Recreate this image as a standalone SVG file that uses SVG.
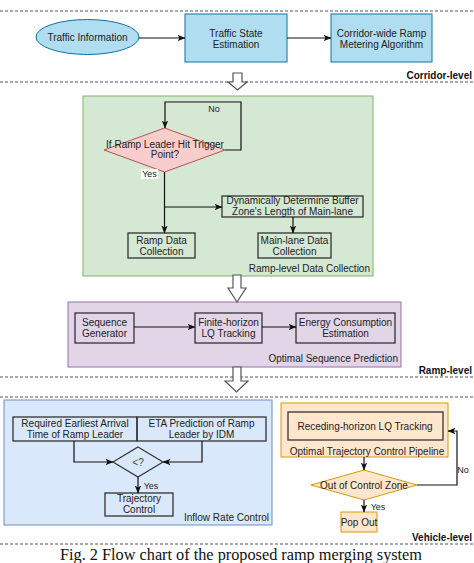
<svg xmlns="http://www.w3.org/2000/svg" width="474" height="563" viewBox="0 0 474 563">
<defs>
<marker id="ah" markerUnits="userSpaceOnUse" markerWidth="8" markerHeight="8" viewBox="0 0 8 8" refX="7.5" refY="4" orient="auto">
<path d="M0,0.8 L8,4 L0,7.2 L2,4 Z" fill="#111"/>
</marker>
<style>
text{font-family:"Liberation Sans",Arial,sans-serif;font-size:10px;fill:#222;text-anchor:middle}
.r{text-anchor:end}
.b{font-weight:bold;fill:#111}
.dash{stroke:#555;stroke-width:1.2;stroke-dasharray:3,2;fill:none}
.c{stroke:#111;stroke-width:1.2;fill:none;marker-end:url(#ah)}
.l{stroke:#111;stroke-width:1.2;fill:none}
.bl{fill:#b1ddf0;stroke:#10739e;stroke-width:1}
.gbox{fill:#d5e8d4;stroke:#82b366;stroke-width:1}
.pbox{fill:#e1d5e7;stroke:#9673a6;stroke-width:1}
.ubox{fill:#dae8fc;stroke:#6c8ebf;stroke-width:1}
.obox{fill:#ffe6cc;stroke:#d79b00;stroke-width:1}
.nb{fill:none;stroke:#333;stroke-width:1.3}
.hollow{fill:#fff;stroke:#555;stroke-width:1.2}
.cap{font-family:"Liberation Serif","Times New Roman",serif;font-size:16.3px;fill:#111;text-anchor:start}
</style>
</defs>

<!-- dashed separators -->
<g id="separators">
<line class="dash" x1="0" y1="11" x2="474" y2="11"/>
<line class="dash" x1="0" y1="82" x2="474" y2="82"/>
<line class="dash" x1="0" y1="377" x2="474" y2="377"/>
<line class="dash" x1="0" y1="397" x2="474" y2="397"/>
<line class="dash" x1="0" y1="544" x2="474" y2="544"/>
</g>

<!-- level labels -->
<text class="r b" x="472" y="79">Corridor-level</text>
<text class="r b" x="472" y="374">Ramp-level</text>
<text class="r b" x="472" y="541">Vehicle-level</text>

<!-- containers -->
<g id="ramp-data-collection">
<rect class="gbox" x="83" y="96" width="290" height="180"/>
<text class="r" x="370" y="272">Ramp-level Data Collection</text>
</g>
<g id="optimal-sequence-prediction">
<rect class="pbox" x="68" y="302" width="333" height="65"/>
<text class="r" x="398" y="362">Optimal Sequence Prediction</text>
</g>
<g id="inflow-rate-control">
<rect class="ubox" x="4" y="400" width="268" height="125"/>
<text class="r" x="269" y="521">Inflow Rate Control</text>
</g>
<g id="optimal-trajectory-pipeline">
<rect class="obox" x="281" y="403" width="167" height="54"/>
<text x="367" y="455">Optimal Trajectory Control Pipeline</text>
</g>

<!-- hollow arrows between levels -->
<g id="level-arrows">
<path class="hollow" d="M233,73 H242 V82 H247 L237.5,90 L228,82 H233 Z"/>
<path class="hollow" d="M233,275 H241 V288 H246 L237,302 L228,288 H233 Z"/>
<path class="hollow" d="M233,367 H241 V381 H248 L236.5,392 L225,381 H233 Z"/>
</g>

<!-- corridor-level nodes -->
<g id="traffic-information">
<ellipse class="bl" cx="87.5" cy="37" rx="51.5" ry="17.5"/>
<text x="87.5" y="41">Traffic Information</text>
</g>
<g id="traffic-state-estimation">
<rect class="bl" x="185" y="14" width="102" height="48"/>
<text x="236" y="36.5">Traffic State</text>
<text x="236" y="47.5">Estimation</text>
</g>
<g id="ramp-metering-algorithm">
<rect class="bl" x="331" y="14" width="101" height="48"/>
<text x="381.5" y="36.5">Corridor-wide Ramp</text>
<text x="381.5" y="47.5">Metering Algorithm</text>
</g>

<!-- ramp data collection nodes -->
<g id="trigger-decision">
<polygon points="164.5,128 225,150 164.5,172 104,150" fill="#f8cecc" stroke="#b85450" stroke-width="1"/>
<text x="165" y="147.5">If Ramp Leader Hit Trigger</text>
<text x="165" y="158">Point?</text>
</g>
<g id="buffer-zone">
<rect class="nb" x="222" y="196" width="141" height="21"/>
<text x="292.5" y="204">Dynamically Determine Buffer</text>
<text x="292.5" y="214.5">Zone's Length of Main-lane</text>
</g>
<g id="ramp-data">
<rect class="nb" x="128" y="233" width="67" height="25"/>
<text x="161.5" y="244">Ramp Data</text>
<text x="161.5" y="255">Collection</text>
</g>
<g id="main-lane-data">
<rect class="nb" x="258" y="233" width="73" height="25"/>
<text x="294.5" y="244">Main-lane Data</text>
<text x="294.5" y="255">Collection</text>
</g>

<!-- optimal sequence nodes -->
<g id="sequence-generator">
<rect class="nb" x="75" y="313" width="59" height="30"/>
<text x="104.5" y="326">Sequence</text>
<text x="104.5" y="337">Generator</text>
</g>
<g id="finite-horizon">
<rect class="nb" x="195" y="313" width="67" height="30"/>
<text x="228.5" y="326">Finite-horizon</text>
<text x="228.5" y="337">LQ Tracking</text>
</g>
<g id="energy-consumption">
<rect class="nb" x="296" y="313" width="99" height="30"/>
<text x="345.5" y="326">Energy Consumption</text>
<text x="345.5" y="337">Estimation</text>
</g>

<!-- inflow rate nodes -->
<g id="required-arrival">
<rect class="nb" x="13" y="417" width="124" height="24"/>
<text x="75" y="426.5">Required Earliest Arrival</text>
<text x="75" y="437.5">Time of Ramp Leader</text>
</g>
<g id="eta-prediction">
<rect class="nb" x="137" y="417" width="129" height="24"/>
<text x="201.5" y="426.5">ETA Prediction of Ramp</text>
<text x="201.5" y="437.5">Leader by IDM</text>
</g>
<g id="compare">
<polygon points="138,447 163,462 138,477 113,462" fill="#dae8fc" stroke="#333" stroke-width="1.2"/>
<text x="138" y="466" style="fill:#444">&lt;?</text>
</g>
<g id="trajectory-control">
<rect class="nb" x="105" y="493" width="68" height="23"/>
<text x="139" y="502">Trajectory</text>
<text x="139" y="513">Control</text>
</g>

<!-- vehicle-level nodes -->
<g id="receding-horizon">
<rect x="288" y="412" width="155" height="28" fill="#ffe6cc" stroke="#333" stroke-width="1.3"/>
<text x="365" y="429.5">Receding-horizon LQ Tracking</text>
</g>
<g id="out-of-control-zone">
<polygon points="364,470 417,485 364,500 311,485" fill="#ffe6cc" stroke="#d79b00" stroke-width="1"/>
<text x="364" y="489">Out of Control Zone</text>
</g>
<g id="pop-out">
<rect class="obox" x="341" y="512" width="36" height="20"/>
<text x="359" y="525.5">Pop Out</text>
</g>

<!-- connectors -->
<g id="connectors">
<path class="c" d="M139,38 H185"/>
<path class="c" d="M287,38 H331"/>
<path class="c" d="M225,150 H241 V102 H165 V128"/>
<path class="l" d="M164.5,172 V207"/>
<path class="c" d="M164.5,207 H222"/>
<path class="c" d="M164.5,207 V233"/>
<path class="c" d="M293,217 V233"/>
<path class="c" d="M134,327 H195"/>
<path class="c" d="M262,327 H296"/>
<path class="c" d="M74,441 V462 H113"/>
<path class="c" d="M202,441 V462 H163"/>
<path class="c" d="M138,477 V493"/>
<path class="c" d="M364,457 V470"/>
<path class="c" d="M417,485 H457 V431 H448"/>
<path class="c" d="M364,500 V512"/>
</g>

<!-- connector labels -->
<g id="connector-labels">
<text x="214" y="112" style="font-size:9px">No</text>
<rect x="141" y="169" width="17" height="10" fill="#fff"/>
<text x="149.5" y="177" style="font-size:9px">Yes</text>
<text x="151" y="489" style="font-size:9px">Yes</text>
<text x="463" y="473" style="font-size:9px">No</text>
<text x="378" y="510" style="font-size:9px">Yes</text>
</g>

<text class="cap" x="60" y="560" textLength="362" lengthAdjust="spacing">Fig. 2 Flow chart of the proposed ramp merging system</text>
</svg>
